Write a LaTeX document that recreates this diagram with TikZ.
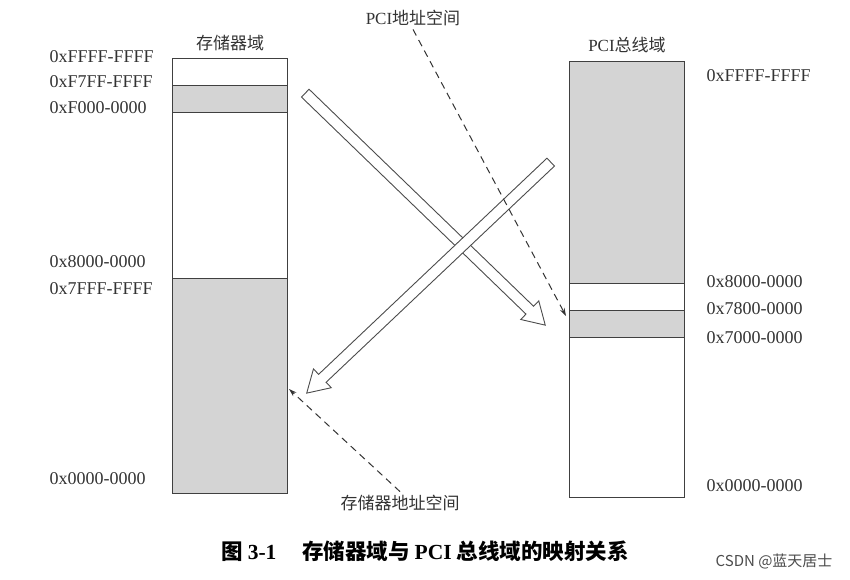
\documentclass[tikz,border=0pt]{standalone}
\usepackage{fontspec}
\setmainfont{Liberation Serif}
\newfontfamily\cjk{Noto Sans CJK SC}
\usetikzlibrary{shapes.arrows,calc,arrows.meta}

\begin{document}
\begin{tikzpicture}[x=1pt,y=-1pt,
    band/.style={draw=black!75, line width=0.9pt, anchor=north west, inner sep=0pt, outer sep=0pt, minimum width=115pt},
    addr/.style={anchor=west, text=black!80, font=\fontsize{18}{20}\selectfont},
    title/.style={text=black!80, font=\cjk\fontsize{17}{19}\selectfont},
    hollow/.style={single arrow, draw=black!70, fill=white, line width=0.9pt, inner xsep=0pt, inner ysep=5pt, single arrow head extend=7.5pt, single arrow head indent=0pt, single arrow tip angle=62},
    ptr/.style={draw=black!80, line width=1pt, dash pattern=on 7pt off 5pt, -{Stealth[length=8pt,width=5pt]}}]
    \fill[white] (0,0) rectangle (850,579);
    % Memory domain
    \foreach \name/\ytop/\ybot/\tone in {mem1/58/85/white, mem2/85/112/black!17, mem3/112/278/white, mem4/278/493/black!17} {
        \node[band, fill=\tone, minimum height=\ybot-\ytop] (\name) at (172,\ytop) {};
    }
    \node[title] (memTitle) at (230,43) {存储器域};
    \foreach \name/\txt/\y in {memAddr1/0xFFFF-FFFF/57, memAddr2/0xF7FF-FFFF/82, memAddr3/0xF000-0000/108, memAddr4/0x8000-0000/262, memAddr5/0x7FFF-FFFF/289, memAddr6/0x0000-0000/479} {
        \node[addr] (\name) at (46,\y) {\txt};
    }
    % PCI bus domain
    \foreach \name/\ytop/\ybot/\tone in {pci1/61/283/black!17, pci2/283/310/white, pci3/310/337/black!17, pci4/337/497/white} {
        \node[band, fill=\tone, minimum height=\ybot-\ytop] (\name) at (569,\ytop) {};
    }
    \node[title] (pciTitle) at (627,45) {{\rmfamily PCI}总线域};
    \foreach \name/\txt/\y in {pciAddr1/0xFFFF-FFFF/76, pciAddr2/0x8000-0000/282, pciAddr3/0x7800-0000/309, pciAddr4/0x7000-0000/338, pciAddr5/0x0000-0000/486} {
        \node[addr] (\name) at (703,\y) {\txt};
    }
    % Mapping arrows
    \coordinate (map1-s) at (302,90);
    \coordinate (map1-e) at (542,322);
    \coordinate (map2-s) at (554,159);
    \coordinate (map2-e) at (310,390);
    \foreach \m in {map1,map2} {
        \path let \p1=($(\m-e)-(\m-s)$), \n1={atan2(\y1,\x1)}, \n2={veclen(\x1,\y1)} in
            node[hollow, minimum height=\n2, rotate=\n1] (\m) at ($(\m-s)!0.5!(\m-e)$) {};
    }
    % Address space labels
    \node[title] (pciSpace) at (413,18) {{\rmfamily PCI}地址空间};
    \node[title] (memSpace) at (400,503) {存储器地址空间};
    \coordinate (pciHit) at (566,316);
    \coordinate (memHit) at (289,389);
    \draw[ptr] (pciSpace.south) -- (pciHit);
    \draw[ptr] (memSpace.north) -- (memHit);
    % Caption
    \node[font=\cjk\bfseries\fontsize{21.5}{23}\selectfont] (caption) at (425,551) {图 {\rmfamily 3-1}\hspace{1.2em}存储器域与 {\rmfamily PCI} 总线域的映射关系};
    \node[anchor=east, text=black!70, font=\cjk\fontsize{15}{17}\selectfont] (mark) at (836,561) {CSDN @蓝天居士};
\end{tikzpicture}
\end{document}
